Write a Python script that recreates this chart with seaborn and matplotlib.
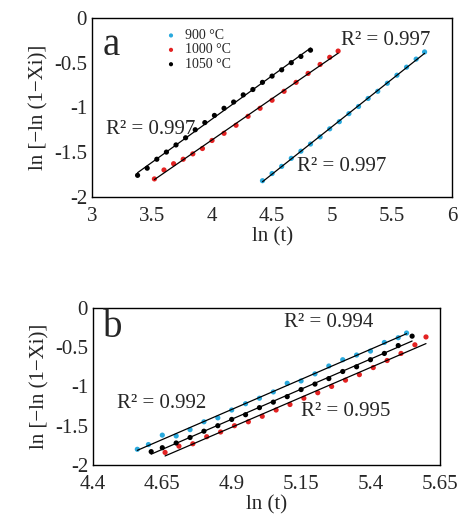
import numpy as np
import matplotlib.pyplot as plt
import seaborn as sns
from matplotlib.ticker import AutoMinorLocator

# panel a
a_x_900 = [4.42, 4.50, 4.58, 4.66, 4.74, 4.82, 4.90, 4.98, 5.06, 5.14, 5.22, 5.30, 5.38, 5.46, 5.54, 5.62, 5.70, 5.77]
a_y_900 = [-1.82, -1.74, -1.66, -1.57, -1.49, -1.41, -1.33, -1.24, -1.16, -1.07, -0.99, -0.90, -0.82, -0.73, -0.64, -0.55, -0.46, -0.38]
a_x_1000 = [3.52, 3.60, 3.68, 3.76, 3.84, 3.92, 4.00, 4.10, 4.20, 4.30, 4.40, 4.50, 4.60, 4.70, 4.80, 4.90, 4.98, 5.05]
a_y_1000 = [-1.80, -1.70, -1.63, -1.58, -1.52, -1.46, -1.37, -1.29, -1.20, -1.10, -1.01, -0.92, -0.82, -0.72, -0.62, -0.52, -0.44, -0.37]
a_x_1050 = [3.38, 3.46, 3.54, 3.62, 3.70, 3.78, 3.86, 3.94, 4.02, 4.10, 4.18, 4.26, 4.34, 4.42, 4.50, 4.58, 4.66, 4.74, 4.82]
a_y_1050 = [-1.76, -1.68, -1.58, -1.50, -1.42, -1.34, -1.25, -1.17, -1.09, -1.01, -0.94, -0.86, -0.80, -0.72, -0.65, -0.58, -0.50, -0.43, -0.36]

# panel b
b_x_900 = [4.56, 4.60, 4.65, 4.70, 4.75, 4.80, 4.85, 4.90, 4.95, 5.00, 5.05, 5.10, 5.15, 5.20, 5.25, 5.30, 5.35, 5.40, 5.45, 5.50, 5.53]
b_y_900 = [-1.80, -1.74, -1.62, -1.63, -1.55, -1.45, -1.40, -1.30, -1.22, -1.15, -1.07, -0.96, -0.93, -0.84, -0.74, -0.66, -0.60, -0.55, -0.44, -0.38, -0.32]
b_x_1050 = [4.61, 4.65, 4.70, 4.75, 4.80, 4.85, 4.90, 4.95, 5.00, 5.05, 5.10, 5.15, 5.20, 5.25, 5.30, 5.35, 5.40, 5.45, 5.50, 5.55]
b_y_1050 = [-1.83, -1.78, -1.72, -1.65, -1.57, -1.50, -1.42, -1.36, -1.27, -1.20, -1.13, -1.04, -0.97, -0.90, -0.81, -0.75, -0.66, -0.58, -0.48, -0.36]
b_x_1000 = [4.66, 4.71, 4.76, 4.81, 4.86, 4.91, 4.96, 5.01, 5.06, 5.11, 5.16, 5.21, 5.26, 5.31, 5.36, 5.41, 5.46, 5.51, 5.56, 5.60]
b_y_1000 = [-1.84, -1.76, -1.73, -1.64, -1.58, -1.50, -1.45, -1.38, -1.30, -1.23, -1.15, -1.08, -1.00, -0.92, -0.85, -0.76, -0.67, -0.58, -0.47, -0.37]

labels = ['900 °C', '1000 °C', '1050 °C']
colors = ['#29a9dd', '#e32222', '#000000']

sns.set_style('white')
plt.rcParams['font.family'] = ['Liberation Serif', 'DejaVu Serif']

fig = plt.figure(figsize=(4.74, 5.29), dpi=100)
ax1 = fig.add_axes([0.194, 0.628, 0.76, 0.338])
ax2 = fig.add_axes([0.196, 0.121, 0.732, 0.297])


def draw(ax, series, small_legend=False):
    for (x, y), lab, c in zip(series, labels, colors):
        sns.scatterplot(x=x, y=y, ax=ax, color=c, s=14, edgecolor='none', label=lab if small_legend else None)
        k, b = np.polyfit(x, y, 1)
        xs = np.array([min(x), max(x)])
        ax.plot(xs, k * xs + b, color='black', lw=0.9)
    for sp in ax.spines.values():
        sp.set_color('black')
        sp.set_linewidth(1.0)
    ax.tick_params(direction='in', which='both', length=4, labelsize=15, width=0.8)
    ax.tick_params(axis='x', pad=7)
    ax.tick_params(which='minor', length=2.5)
    ax.yaxis.set_minor_locator(AutoMinorLocator(5))
    ax.xaxis.set_minor_locator(AutoMinorLocator(5))
    ax.set_ylabel('ln [−ln (1−Xi)]', fontsize=15)
    ax.set_xlabel('ln (t)', fontsize=15, labelpad=1)
    ax.set_ylim(-2, 0)
    ax.set_yticks([-2, -1.5, -1, -0.5, 0])
    ax.set_yticklabels(['-2', '-1.5', '-1', '-0.5', '0'])


draw(ax1, [(a_x_900, a_y_900), (a_x_1000, a_y_1000), (a_x_1050, a_y_1050)], small_legend=True)
ax1.set_xlim(3, 6)
ax1.set_xticks([3, 3.5, 4, 4.5, 5, 5.5, 6])
ax1.set_xticklabels(['3', '3.5', '4', '4.5', '5', '5.5', '6'])
ax1.legend(loc='upper left', bbox_to_anchor=(0.15, 1.0), frameon=False, fontsize=10,
           handletextpad=0.0, labelspacing=0.1, borderpad=0.3, markerscale=0.8)
ax1.text(0.03, 0.95, 'a', transform=ax1.transAxes, fontsize=28, va='top')
ax1.text(0.69, 0.93, 'R² = 0.997', transform=ax1.transAxes, fontsize=15, va='top')
ax1.text(0.04, 0.43, 'R² = 0.997', transform=ax1.transAxes, fontsize=15, va='top')
ax1.text(0.57, 0.22, 'R² = 0.997', transform=ax1.transAxes, fontsize=15, va='top')

draw(ax2, [(b_x_900, b_y_900), (b_x_1000, b_y_1000), (b_x_1050, b_y_1050)])
ax2.set_xlim(4.4, 5.65)
ax2.set_xticks([4.4, 4.65, 4.9, 5.15, 5.4, 5.65])
ax2.set_xticklabels(['4.4', '4.65', '4.9', '5.15', '5.4', '5.65'])
ax2.text(0.03, 0.99, 'b', transform=ax2.transAxes, fontsize=28, va='top')
ax2.text(0.55, 0.97, 'R² = 0.994', transform=ax2.transAxes, fontsize=15, va='top')
ax2.text(0.07, 0.45, 'R² = 0.992', transform=ax2.transAxes, fontsize=15, va='top')
ax2.text(0.60, 0.40, 'R² = 0.995', transform=ax2.transAxes, fontsize=15, va='top')

fig.savefig('out.png', dpi=100)
